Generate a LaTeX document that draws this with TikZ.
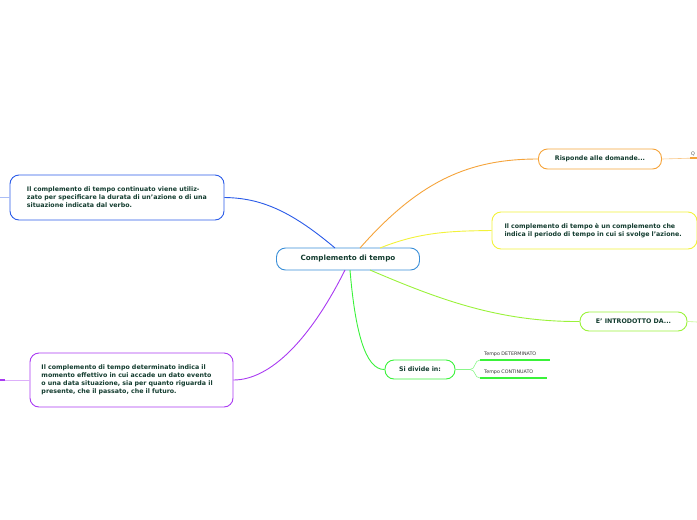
\documentclass[tikz,border=0pt]{standalone}
\usepackage{fontspec}
\setmainfont{DejaVu Sans}
\definecolor{txt}{HTML}{123B2E}
\definecolor{cblue}{HTML}{2A5BE8}
\definecolor{corange}{HTML}{F5A33A}
\definecolor{cyellow}{HTML}{F2F23A}
\definecolor{clime}{HTML}{9AF23A}
\definecolor{cgreen}{HTML}{3AF23A}
\definecolor{cpurple}{HTML}{A93AF2}
\definecolor{ccenter}{HTML}{3A8FD8}
\begin{document}
\begin{tikzpicture}[x=1pt,y=-1pt,
  topic/.style={draw,rounded corners=9pt,line width=0.9pt,text=txt,font=\bfseries\fontsize{6.3}{8}\selectfont,align=left,inner sep=0pt},
  leaf/.style={text=black!80,font=\fontsize{4.8}{6}\selectfont,inner sep=0pt,anchor=south west},
  br/.style={line width=0.9pt}]
\useasboundingbox (0,0) rectangle (697,520);
\node[topic,draw=ccenter,minimum width=143pt,minimum height=22pt,font=\bfseries\fontsize{7.2}{9}\selectfont,align=center] (c) at (348,259) {Complemento di tempo};
\node[topic,draw=corange,minimum width=123pt,minimum height=20pt] (r) at (600,159) {Risponde alle domande...};
\node[topic,draw=cyellow,minimum width=205pt,minimum height=37pt,text width=180pt] (y) at (594.5,230.5) {Il complemento di tempo è un complemento che indica il periodo di tempo in cui si svolge l'azione.};
\node[topic,draw=clime,minimum width=107pt,minimum height=19pt] (e) at (633.5,321.5) {E' INTRODOTTO DA...};
\node[topic,draw=cgreen,minimum width=70pt,minimum height=19pt] (s) at (420,369.5) {Si divide in:};
\node[topic,draw=cblue,minimum width=214pt,minimum height=45pt,text width=180pt] (b) at (117,197.5) {Il complemento di tempo continuato viene utilizzato per specificare la durata di un'azione o di una situazione indicata dal verbo.};
\node[topic,draw=cpurple,minimum width=203pt,minimum height=54pt,text width=180pt] (p) at (131.5,380) {Il complemento di tempo determinato indica il momento effettivo in cui accade un dato evento o una data situazione, sia per quanto riguarda il presente, che il passato, che il futuro.};
\draw[corange,br] (360,248) .. controls (420,180) and (470,159) .. (r.west);
\draw[cyellow,br] (380,248) .. controls (420,232) and (450,231) .. (y.west);
\draw[clime,br] (370,270) .. controls (440,300) and (500,322) .. (e.west);
\draw[cgreen,br] (350,270) .. controls (355,330) and (365,370) .. (s.west);
\draw[cblue,br] (335,248) .. controls (290,210) and (260,198) .. (b.east);
\draw[cpurple,br] (345,270) .. controls (310,340) and (270,380) .. (p.east);
% stubs
\coordinate (q1) at (697,158);
\draw[corange!60,line width=0.6pt] (r.east) -- (q1);
\draw[corange,line width=1.2pt] (690,158) -- (q1);
\node[leaf,text=black!70,anchor=south west] (qt) at (691,156) {Q};
\coordinate (e1) at (697,322);
\draw[clime!60,line width=0.6pt] (e.east) -- (e1);
\coordinate (b1) at (0,197.5);
\draw[cblue!40,line width=0.8pt] (b.west) -- (b1);
\coordinate (p1) at (0,380);
\draw[cpurple!40,line width=0.8pt] (p.west) -- (p1);
\draw[cpurple,line width=1.2pt] (5,380) -- (p1);
% leaves
\coordinate (j) at (470,369.5);
\draw[cgreen!60,line width=0.6pt] (s.east) -- (j);
\node[leaf] (t1) at (484,357) {Tempo DETERMINATO};
\node[leaf] (t2) at (484,375) {Tempo CONTINUATO};
\coordinate (u1) at (480,360); \coordinate (v1) at (550,360);
\coordinate (u2) at (480,378); \coordinate (v2) at (547,378);
\draw[cgreen!60,line width=0.6pt] (j) .. controls (476,369.5) and (474,360) .. (u1);
\draw[cgreen!60,line width=0.6pt] (j) .. controls (476,369.5) and (474,378) .. (u2);
\draw[cgreen,line width=1.2pt] (u1) -- (v1);
\draw[cgreen,line width=1.2pt] (u2) -- (v2);
\end{tikzpicture}
\end{document}
